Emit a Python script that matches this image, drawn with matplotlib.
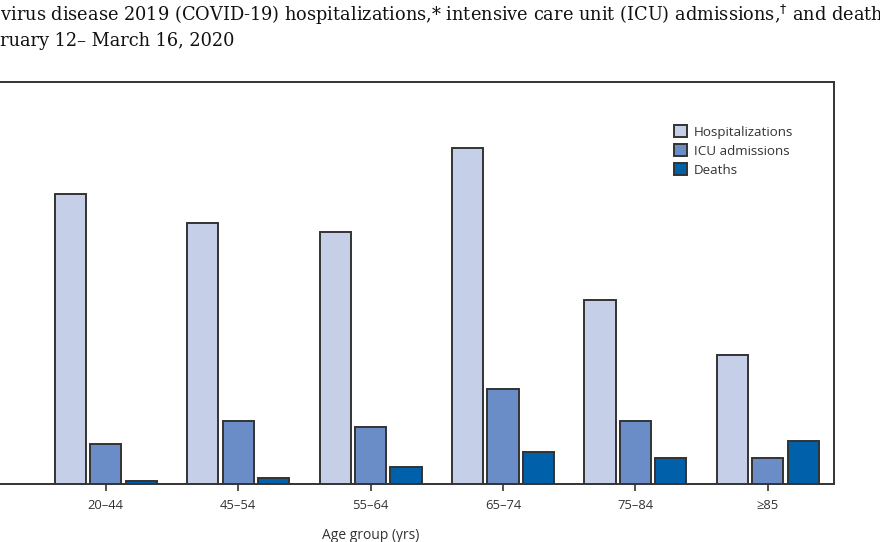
import numpy as np
import matplotlib
matplotlib.use("Agg")
import matplotlib.pyplot as plt

age_groups = ["20–44", "45–54", "55–64", "65–74", "75–84", "≥85"]
hospitalizations = [101, 91, 88, 117, 64, 45]
icu_admissions = [14, 22, 20, 33, 22, 9]
deaths = [1, 2, 6, 11, 9, 15]

series = ["Hospitalizations", "ICU admissions", "Deaths"]
colors = ["#c5d0e8", "#6a8dc7", "#0060a9"]

W, H = 880, 542
fig = plt.figure(figsize=(W / 100, H / 100), dpi=100)

# axes runs off the left edge, like the cropped original
left_px, right_px, top_px, bot_px = -92.8, 834, 82.3, 484
ax = fig.add_axes([left_px / W, 1 - bot_px / H,
                   (right_px - left_px) / W, (bot_px - top_px) / H])

x = np.arange(len(age_groups))
off = 0.267
bw = 0.235
for i, (vals, name) in enumerate(zip([hospitalizations, icu_admissions, deaths], series)):
    ax.bar(x + (i - 1) * off, vals, width=bw, color=colors[i],
           edgecolor="#333333", linewidth=1.4, label=name, zorder=3)

ax.set_xlim(-1.5, 5.5)
ax.set_ylim(0, 140)
ax.set_xticks(x)
ax.set_xticklabels(age_groups, family=["Open Sans", "DejaVu Sans"], fontsize=9.4, color="#333333")
ax.set_yticks([])
ax.tick_params(axis="x", length=5, width=1.2, color="#333333", pad=6)
for s in ax.spines.values():
    s.set_color("#333333")
    s.set_linewidth(1.4)

ax.set_xlabel("Age group (yrs)", family="Open Sans", fontsize=10, color="#333333", labelpad=11)

leg = ax.legend(loc="upper left",
                bbox_to_anchor=((674 - left_px) / (right_px - left_px), 1 - (125 - top_px) / (bot_px - top_px)),
                frameon=False, prop={"family": "Open Sans", "size": 9.6},
                handlelength=1.0, handleheight=1.0, handletextpad=0.5, labelspacing=0.42,
                borderaxespad=0, borderpad=0)
for t in leg.get_texts():
    t.set_color("#333333")

# title, cut at the left edge as in the reference
line1 = "FIGURE 2. Coronavirus disease 2019 (COVID-19) hospitalizations,* intensive care unit (ICU) admissions,$^{\\dagger}$ and deaths,$^{\\S}$ by age group — United States, Feb-"
line2 = "February 12– March 16, 2020"
tfont = dict(family="DejaVu Serif", fontsize=12.8, color="#111111")
renderer = fig.canvas.get_renderer()
for text, cut, y in [(line1, "FIGURE 2. Corona", 21), (line2, "Feb", 46)]:
    probe = fig.text(0, 0, cut, **tfont)
    w = probe.get_window_extent(renderer).width
    probe.remove()
    fig.text(-w / W, 1 - y / H, text, va="baseline", **tfont)

fig.savefig("out.png", dpi=100)
